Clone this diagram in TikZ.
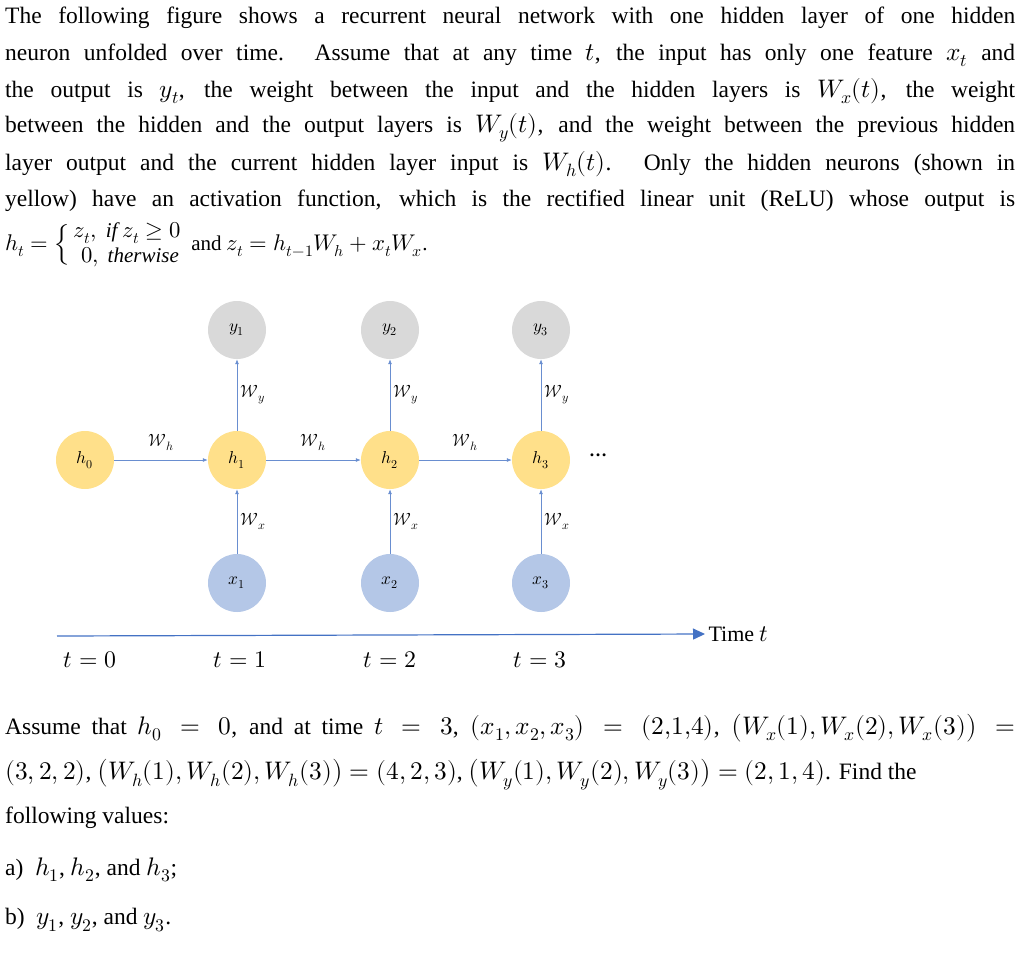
\documentclass[tikz,border=0pt]{standalone}
\usepackage{amsmath}
\usepackage{unicode-math}
\setmainfont{Liberation Serif}
\setmathfont{Latin Modern Math}[Scale=1.08]
\usetikzlibrary{arrows.meta}
\definecolor{hy}{HTML}{FFE08A}
\definecolor{gy}{HTML}{D9D9D9}
\definecolor{bx}{HTML}{B4C7E7}
\definecolor{ln}{HTML}{4472C4}
\begin{document}
\begin{tikzpicture}[x=1pt,y=-1pt,
  txt/.style={anchor=west,inner sep=0,font=\fontsize{23.5}{26}\selectfont},
  hid/.style={circle,fill=hy,minimum size=58pt,inner sep=0,font=\fontsize{16}{16}\selectfont},
  outn/.style={circle,fill=gy,minimum size=58pt,inner sep=0,font=\fontsize{16}{16}\selectfont},
  inn/.style={circle,fill=bx,minimum size=58pt,inner sep=0,font=\fontsize{16}{16}\selectfont},
  con/.style={draw=ln!80,line width=0.8pt,-{Latex[length=5pt,width=4pt]}},
  wl/.style={font=\fontsize{16}{16}\selectfont,inner sep=1pt},
  tl/.style={font=\fontsize{22}{24}\selectfont}]
\useasboundingbox (0,0) rectangle (1024,956);
\node[txt] (l1) at (5,18) {\makebox[1010pt][s]{The following figure shows a recurrent neural network with one hidden layer of one hidden}};
\node[txt] (l2) at (5,55) {\makebox[1010pt][s]{neuron unfolded over time. Assume that at any time $t$, the input has only one feature $x_t$ and}};
\node[txt] (l3) at (5,91) {\makebox[1010pt][s]{the output is $y_t$, the weight between the input and the hidden layers is $W_x(t)$, the weight}};
\node[txt] (l4) at (5,128) {\makebox[1010pt][s]{between the hidden and the output layers is $W_y(t)$, and the weight between the previous hidden}};
\node[txt] (l5) at (5,164) {\makebox[1010pt][s]{layer output and the current hidden layer input is $W_h(t)$. Only the hidden neurons (shown in}};
\node[txt] (l6) at (5,201) {\makebox[1010pt][s]{yellow) have an activation function, which is the rectified linear unit (ReLU) whose output is}};
\node[txt,font=\fontsize{21}{22}\selectfont] (l7) at (5,245) {$h_t=\left\{\begin{smallmatrix}\textstyle z_t,\ \mathit{if}\ z_t\ge 0\hfill\\[2pt] \textstyle\ 0,\ \mathit{therwise}\end{smallmatrix}\right.$ and $z_t=h_{t-1}W_h+x_tW_x$.};

\node[hid] (h0) at (85,460) {$h_0$};
\node[hid] (h1) at (237,460) {$h_1$};
\node[hid] (h2) at (390,460) {$h_2$};
\node[hid] (h3) at (541,460) {$h_3$};
\node[outn] (y1) at (237,330) {$y_1$};
\node[outn] (y2) at (390,330) {$y_2$};
\node[outn] (y3) at (541,330) {$y_3$};
\node[inn] (x1) at (237,583) {$x_1$};
\node[inn] (x2) at (390,583) {$x_2$};
\node[inn] (x3) at (541,583) {$x_3$};
\node (dots) at (598,455) {\textbf{\fontsize{18}{18}\selectfont\dots}};
\draw[con] (h0) -- node[wl,above=8pt] {$\mathcal{W}_h$} (h1);
\draw[con] (h1) -- node[wl,above=8pt] {$\mathcal{W}_h$} (h2);
\draw[con] (h2) -- node[wl,above=8pt] {$\mathcal{W}_h$} (h3);
\foreach \i in {1,2,3}{
  \draw[con] (h\i) -- node[wl,right=2pt] {$\mathcal{W}_y$} (y\i);
  \draw[con] (x\i) -- node[wl,right=2pt] {$\mathcal{W}_x$} (h\i);
}
\coordinate (ts) at (57,636);
\node[tl,anchor=west] (time) at (705,634) {Time $t$};
\draw[draw=ln,line width=1.2pt,-{Triangle[length=12pt,width=11pt]}] (ts) -- (time.west);
\node[tl] (t0) at (90,660) {$t=0$};
\node[tl] (t1) at (240,660) {$t=1$};
\node[tl] (t2) at (390,660) {$t=2$};
\node[tl] (t3) at (540,660) {$t=3$};

\node[txt] (b1) at (5,728) {\makebox[1010pt][s]{Assume that $h_0=0$, and at time $t=3$, $(x_1,x_2,x_3)=(2{,}1{,}4)$, $\big(W_x(1),W_x(2),W_x(3)\big)=$}};
\node[txt] (b2) at (5,774) {$(3,2,2)$, $\big(W_h(1),W_h(2),W_h(3)\big)=(4,2,3)$, $\big(W_y(1),W_y(2),W_y(3)\big)=(2,1,4)$. Find the};
\node[txt] (b3) at (5,818) {following values:};
\node[txt] (b4) at (5,870) {a)\ \ $h_1$, $h_2$, and $h_3$;};
\node[txt] (b5) at (5,920) {b)\ \ $y_1$, $y_2$, and $y_3$.};
\end{tikzpicture}
\end{document}
